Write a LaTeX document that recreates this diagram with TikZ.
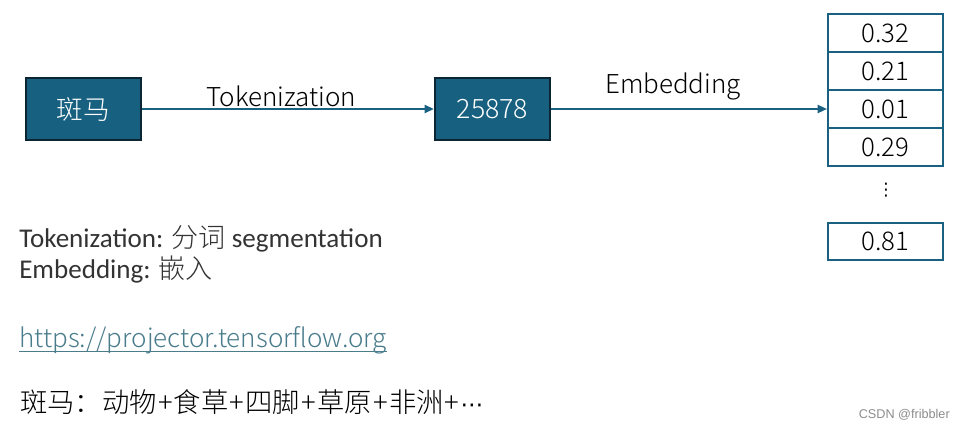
\documentclass[tikz,border=0pt]{standalone}
\usepackage{fontspec}
\setmainfont{Noto Sans CJK SC Light}
\newfontfamily\cjkfnt{Noto Sans CJK SC Light}
\newfontfamily\calfnt{Carlito}
\newfontfamily\dejfnt{DejaVu Sans}
\newfontfamily\libfnt{Liberation Sans}
\usetikzlibrary{arrows.meta}
\definecolor{boxfill}{RGB}{23,96,128}
\definecolor{boxedge}{RGB}{12,37,51}
\definecolor{arrowc}{RGB}{26,96,128}
\definecolor{txtgray}{RGB}{51,51,51}
\definecolor{urlc}{RGB}{74,124,140}
\newcommand{\pls}{\kern0.9pt+\kern0.9pt}
\tikzset{
  tokbox/.style={draw=boxedge, fill=boxfill, line width=1.6pt, minimum width=115*0.75pt, minimum height=62*0.75pt, inner sep=0pt, text=white, font=\cjkfnt\fontsize{20}{22}\selectfont},
  cell/.style={draw=arrowc, fill=white, line width=1.5pt, minimum width=115*0.75pt, minimum height=38*0.75pt, inner sep=0pt, font=\cjkfnt\fontsize{19.3}{22}\selectfont},
  conn/.style={draw=arrowc, line width=1.5pt, -{Triangle[length=7pt,width=6pt]}},
  lbl/.style={anchor=base, inner sep=0pt, font=\cjkfnt\fontsize{19.5}{22}\selectfont},
  bodytxt/.style={anchor=base west, inner sep=0pt, text=txtgray, font=\calfnt\fontsize{20.3}{22}\selectfont},
}
\begin{document}
\begin{tikzpicture}[x=0.75pt, y=-0.75pt]
\useasboundingbox (0,0) rectangle (966,430);
\node[tokbox] (zebra) at (83.5,109) {斑马};
\node[tokbox] (id) at (492.5,109) {25878};
\node[cell] (c1) at (885.5,33) {0.32};
\node[cell] (c2) at (885.5,71) {0.21};
\node[cell] (c3) at (885.5,109) {0.01};
\node[cell] (c4) at (885.5,147) {0.29};
\node[font=\dejfnt\fontsize{13}{14}\selectfont, inner sep=0pt] (dots) at (886,190) {⋮};
\node[cell, minimum height=37*0.75pt] (c5) at (885.5,241.5) {0.81};
\draw[conn] (zebra.east) -- (id.west);
\draw[conn] (id.east) -- (c3.west);
\node[lbl] (tl) at (281,106) {Tokenization};
\node[lbl] (el) at (673,93) {Embedding};
\node[bodytxt] (t1) at (19,247) {Tokenization: {\cjkfnt 分词} segmentation};
\node[bodytxt] (t2) at (19,278) {Embedding: {\cjkfnt 嵌入}};
\node[bodytxt, text=urlc, font=\cjkfnt\fontsize{19.5}{22}\selectfont] (url) at (19,347) {https://projector.tensorflow.org};
\draw[urlc, line width=1pt] ([yshift=-3.5pt]url.base west) -- ([yshift=-3.5pt]url.base east);
\node[bodytxt, text=black, font=\cjkfnt\fontsize{20.5}{22}\selectfont] (zl) at (20,412) {斑马：动物\pls 食草\pls 四脚\pls 草原\pls 非洲\pls{\dejfnt\fontsize{17}{20}\selectfont ⋯}};
\node[anchor=base east, inner sep=0pt, text=black!45, font=\libfnt\fontsize{9.5}{11}\selectfont] (wm) at (950,418) {CSDN @fribbler};
\end{tikzpicture}
\end{document}
